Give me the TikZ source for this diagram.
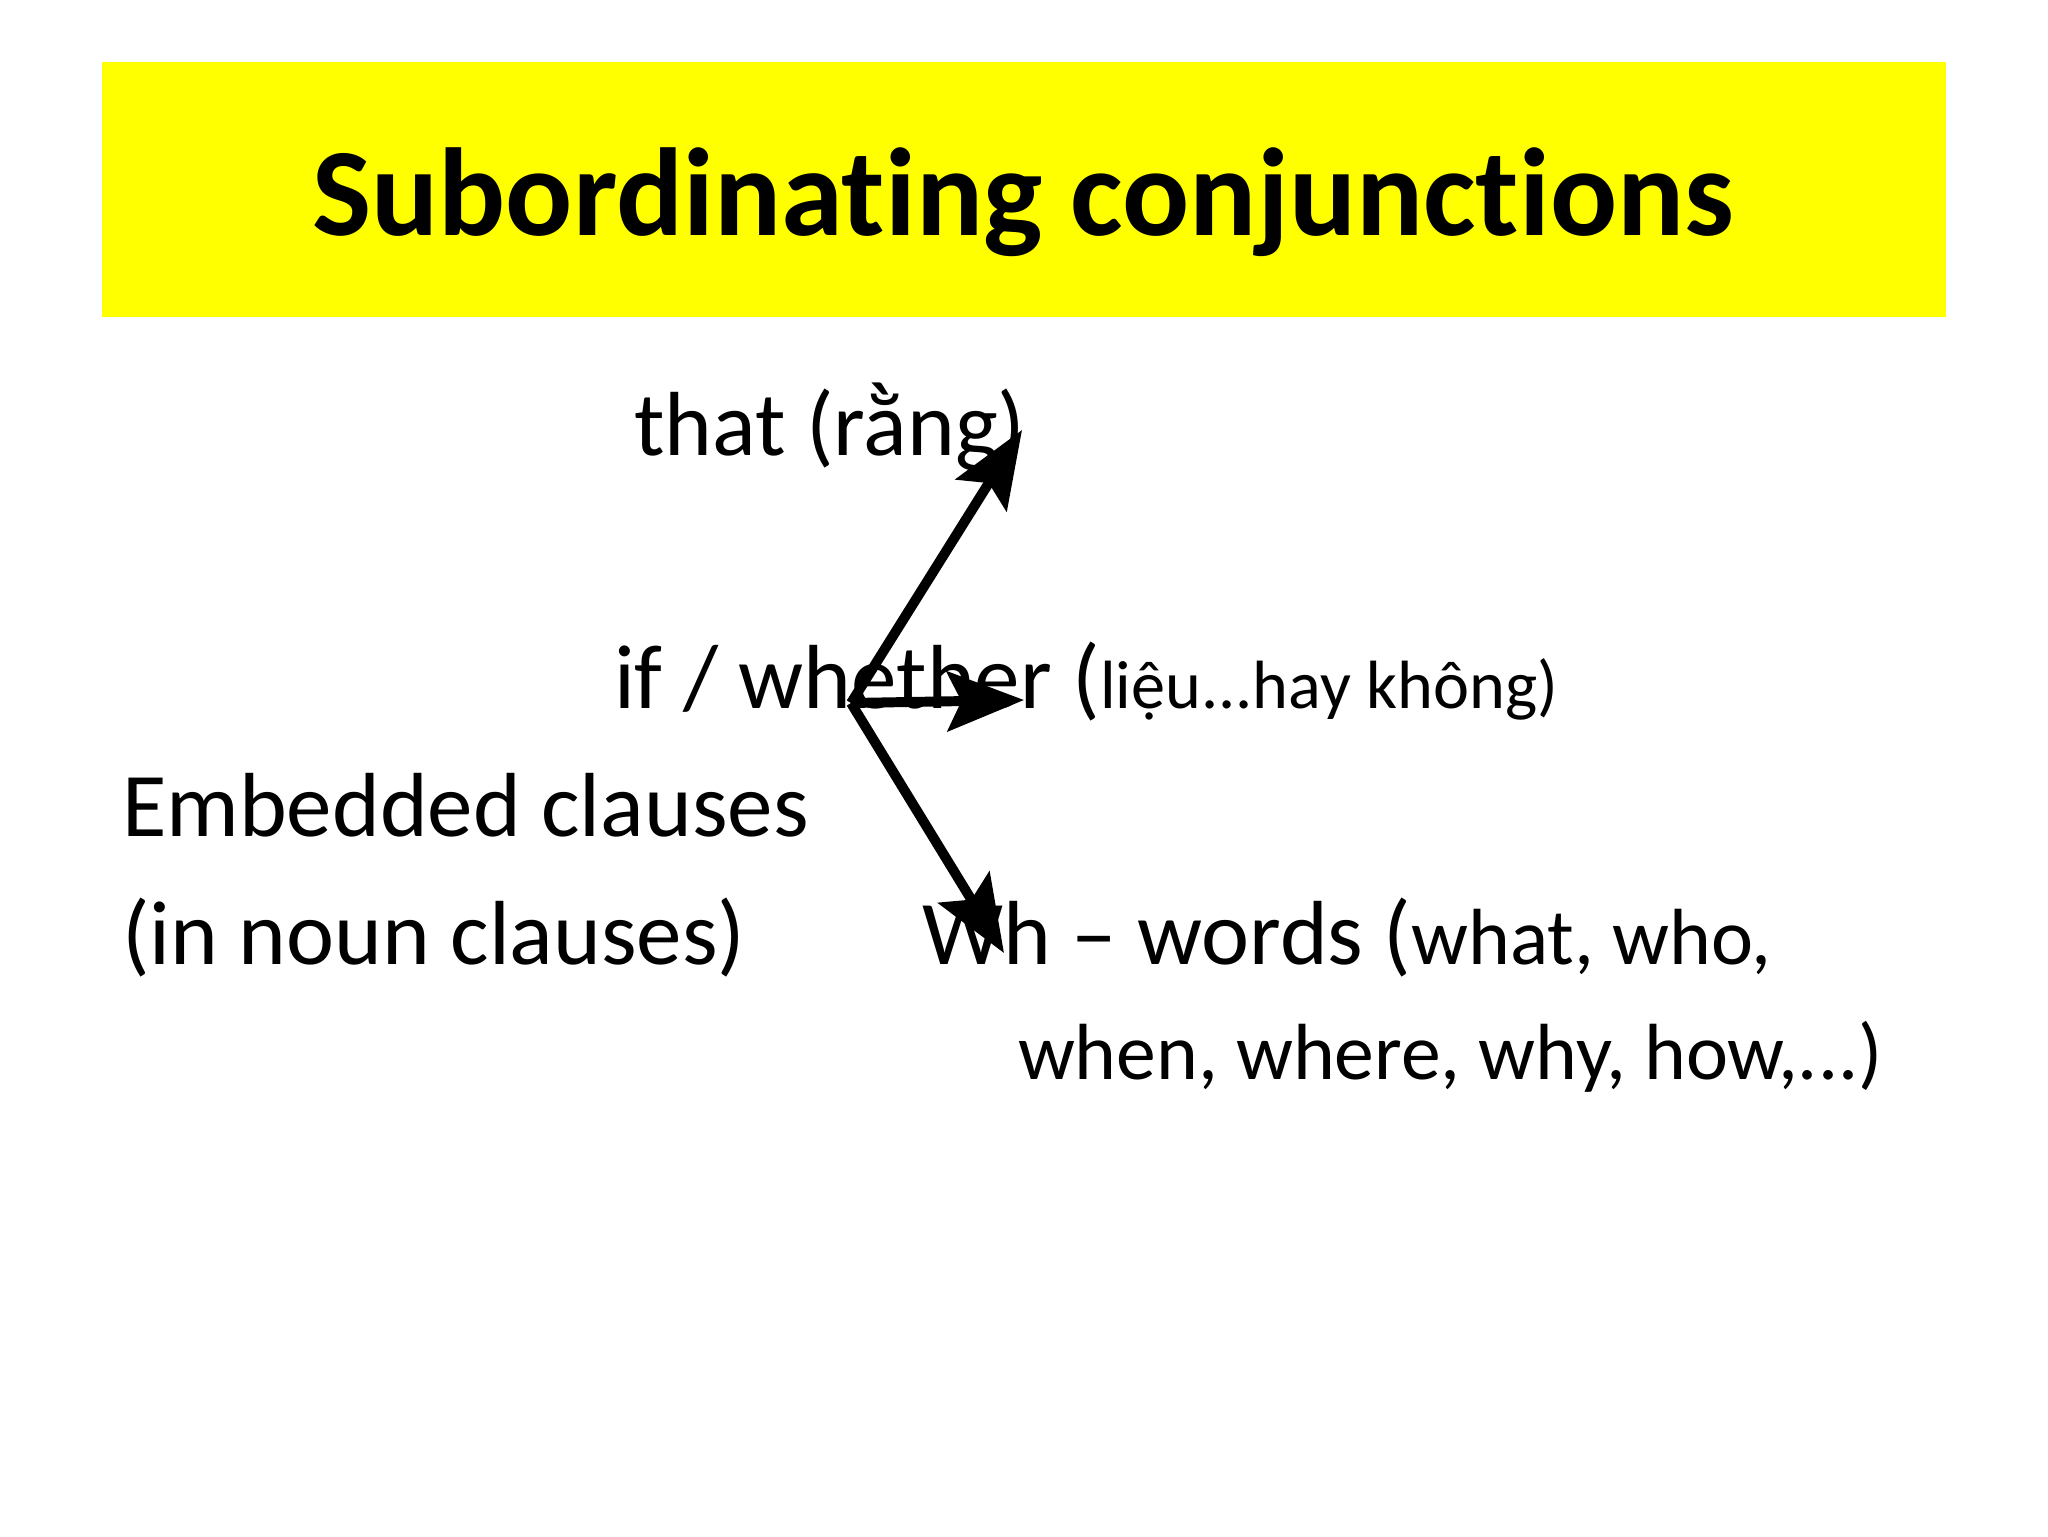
\documentclass[tikz,border=0pt]{standalone}
\usepackage{fontspec}
\setmainfont{Carlito}[Ligatures={NoCommon}]
\usetikzlibrary{arrows.meta}
\definecolor{titleyellow}{RGB}{255,255,0}
\begin{document}
\begin{tikzpicture}[x=0.3516pt,y=-0.3516pt,
  txt/.style={anchor=base west, inner sep=0pt, outer sep=0pt},
  big/.style={font=\fontsize{32}{38}\selectfont},
  titlefont/.style={font=\fontsize{44}{53}\selectfont\bfseries},
  arr/.style={line width=3.5pt, -{Stealth[length=27pt,width=21pt,inset=5pt]}}]
\useasboundingbox (0,0) rectangle (2048,1536);
\fill[white] (0,0) rectangle (2048,1536);
\fill[titleyellow] (102,62) rectangle (1946,317);
\node[titlefont, anchor=base, inner sep=0pt] (title) at (1023,235) {Subordinating conjunctions};
\node[txt,big] (that) at (634,455) {that (rằng)};
\node[txt] (ifw) at (614,708) {\fontsize{32}{38}\selectfont if / whether (\fontsize{24}{29}\selectfont liệu...hay không)};
\node[txt,big] (emb) at (122,836) {Embedded clauses};
\node[txt,big] (innoun) at (122,964) {(in noun clauses)};
\node[txt] (wh) at (922,964) {\fontsize{32}{38}\selectfont Wh – words (\fontsize{28}{34}\selectfont what, who,};
\node[txt] (whn) at (1018,1079) {\fontsize{28}{34}\selectfont when, where, why, how,...)};
\coordinate (hub) at (851,703);
\coordinate (tipThat) at (1022,430);
\coordinate (tipIf) at (1024,700);
\coordinate (tipWh) at (1004,953);
\draw[arr] (hub) -- (tipThat);
\draw[arr] (hub) -- (tipIf);
\draw[arr] (hub) -- (tipWh);
\end{tikzpicture}
\end{document}
